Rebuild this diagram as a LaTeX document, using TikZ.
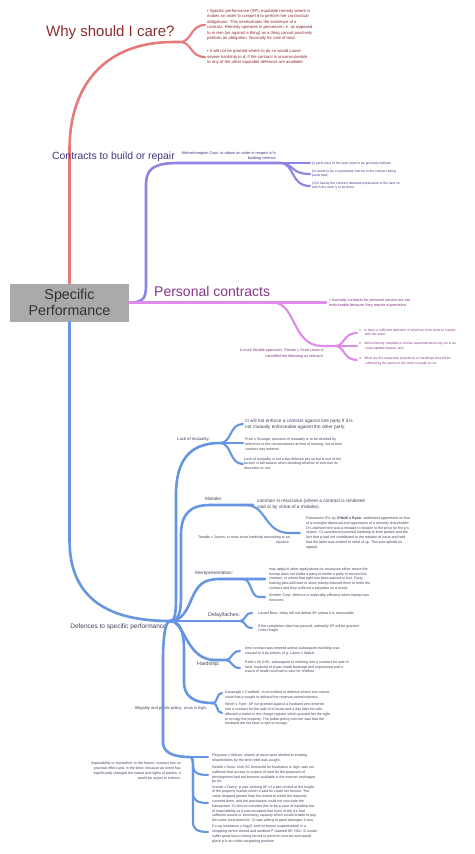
\documentclass[tikz,border=0pt]{standalone}
\usepackage{fontspec}
\setmainfont{Liberation Sans}
\definecolor{redline}{RGB}{228,122,122}
\definecolor{redtext}{RGB}{140,45,45}
\definecolor{purline}{RGB}{142,132,228}
\definecolor{purtext}{RGB}{62,58,125}
\definecolor{magline}{RGB}{221,140,232}
\definecolor{magtext}{RGB}{135,55,135}
\definecolor{bluline}{RGB}{102,150,226}
\definecolor{blutext}{RGB}{66,68,92}
\definecolor{rootfill}{RGB}{170,170,170}
\definecolor{roottext}{RGB}{50,50,50}
\newcommand{\fsz}[2]{\fontsize{#1}{#2}\selectfont}
\begin{document}
\begin{tikzpicture}[x=1pt,y=-1pt,
  mainl/.style={line width=2.6pt, line cap=round},
  subl/.style={line width=2.1pt, line cap=round},
  tl/.style={inner sep=0pt, align=left, anchor=north west},
  tr/.style={inner sep=0pt, align=right, anchor=north east},
  bsmall/.style={tl, text=blutext, font={\fsz{3.6}{4.7}}},
  bbig/.style={tl, text=blutext, font={\fsz{4.7}{6}}},
  blab/.style={inner sep=0pt, anchor=west, text=blutext}]
\useasboundingbox (0,0) rectangle (474,854);
\fill[white] (0,0) rectangle (474,854);

% root
\node[fill=rootfill, minimum width=119pt, minimum height=38pt, inner sep=0pt, align=center,
  text=roottext, font={\fsz{14.3}{16.7}}] (root) at (69.5,302.5) {Specific\\Performance};

% ---------------- red branch
\node[anchor=base west, inner sep=0pt, text=redtext, font={\fsz{15}{18}}] (why) at (46,36.5) {Why should I care?};
\coordinate (rhub) at (180,42);
\coordinate (r1) at (205,25);
\coordinate (r2) at (205,57);
\draw[mainl,redline] (root.north) -- (69.5,150) .. controls (69.5,80) and (110,42) .. (173,42) -- (rhub);
\draw[subl,redline] (rhub) .. controls (192,42) and (190,25) .. (r1);
\draw[subl,redline] (rhub) .. controls (192,42) and (190,57) .. (r2);
\node[tl, text=redtext, font={\fsz{4.2}{5.5}}] (rt1) at (207,9.1) {• Specific performance (SP): equitable remedy where ct\\makes an order to compel d to perform her contractual\\obligations. This necessitates the existence of a\\contract. Remedy operates in personam i.e. as opposed\\to in rem (as against a thing) as a thing cannot positively\\perform an obligation. Normally for sale of land.};
\node[tl, text=redtext, font={\fsz{4.2}{5.4}}] (rt2) at (207,49.4) {• It will not be granted where to do so would cause\\severe hardship to d, if the contract is unconscionable\\or any of the other equitable defences are available.};

% ---------------- purple branch
\node[anchor=base west, inner sep=0pt, text=purtext, font={\fsz{10.4}{12}}] (cbr) at (52,159) {Contracts to build or repair};
\coordinate (phub) at (280,163);
\draw[mainl,purline] (root.east) .. controls (146,302.5) and (146,296) .. (146,282) -- (146,185) .. controls (146,170) and (152,163) .. (178,163) -- (phub);
\draw[subl,purline] (phub) -- (310,163);
\draw[subl,purline] (phub) .. controls (294,163) and (290,174) .. (310,174);
\draw[subl,purline] (phub) .. controls (295,163) and (290,186) .. (310,186);
\node[tr, text=purtext, font={\fsz{3.85}{4.9}}] (wolv) at (276,151.8) {Wolverhampton Corp: to obtain an order in respect of a\\building contract};
\node[inner sep=0pt, anchor=west, text=purtext, font={\fsz{3.3}{4.6}}] (p1) at (312,163.7) {(i) particulars of the work need to be precisely defined;};
\node[tl, text=purtext, font={\fsz{3.3}{4.6}}] (p2) at (312,169.8) {(ii) needs to be a substantial interest in the contract being\\performed;};
\node[tl, text=purtext, font={\fsz{3.3}{4.6}}] (p3) at (312,181.8) {(iii) it has by the contract obtained possession of the land on\\which the work is to be done.};

% ---------------- magenta branch
\node[anchor=base west, inner sep=0pt, text=magtext, font={\fsz{14}{16}}] (pc) at (154,296.5) {Personal contracts};
\coordinate (mfork) at (273,302.5);
\coordinate (mhub) at (335,346);
\draw[mainl,magline] (root.east) -- (326,302.5);
\draw[subl,magline] (mfork) .. controls (296,302.5) and (292,346) .. (322,346) -- (mhub);
\draw[subl,magline] (mhub) .. controls (345,346) and (343,333) .. (357,333);
\draw[subl,magline] (mhub) -- (357,346);
\draw[subl,magline] (mhub) .. controls (345,346) and (343,360) .. (357,360);
\node[tl, text=magtext, font={\fsz{3.8}{5}}] (m0) at (329,298.3) {• Normally contracts for personal service are not\\enforceable because they require supervision.};
\node[tl, text=magtext, font={\fsz{3.3}{4.6}}] (m1) at (359,328.6) {1.\hspace{2.5pt}Is there a sufficient definition of what has to be done to comply\\\hspace{6pt}with the order;};
\node[tl, text=magtext, font={\fsz{3.3}{4.6}}] (m2) at (359,342.2) {2.\hspace{2.5pt}Will enforcing compliance involve superintendence by cts to an\\\hspace{6pt}unacceptable degree; and};
\node[tl, text=magtext, font={\fsz{3.3}{4.6}}] (m3) at (359,357.2) {3.\hspace{2.5pt}What are the respective prejudices or hardships that will be\\\hspace{6pt}suffered by the parties if the order is made or not.};
\node[tr, text=magtext, font={\fsz{3.8}{5.3}}] (mflex) at (324,348.9) {A more flexible approach: Posner v Scott Lewis ct\\identified the following as relevant:};

% ---------------- blue branch
\coordinate (H) at (170,621);
\draw[mainl,bluline] (root.south) -- (69.5,540) .. controls (69.5,600) and (110,621) .. (H);
\node[inner sep=0pt, anchor=east, text=blutext, font={\fsz{6.5}{8}}] (def) at (167,626.7) {Defences to specific performance};

% lack of mutuality
\node[blab, font={\fsz{4.2}{5}}] (lom) at (177,439) {Lack of mutuality:};
\coordinate (lhub) at (220,443);
\draw[mainl,bluline] (H) .. controls (176,621) and (176,610) .. (176,590) -- (176,495) .. controls (176,460) and (190,443) .. (lhub);
\draw[subl,bluline] (lhub) .. controls (232,443) and (229,424) .. (243,424);
\draw[subl,bluline] (lhub) -- (243,443);
\draw[subl,bluline] (lhub) .. controls (232,443) and (229,464) .. (243,464);
\node[bbig] (lm1) at (245,418.8) {ct will not enforce a contract against one party if it is\\not mutually enforceable against the other party.};
\node[bsmall, font={\fsz{3.6}{5}}] (lm2) at (245,437.4) {Price v Strange: question of mutuality is to be decided by\\reference to the circumstances at time of hearing, not at time\\contract was entered.};
\node[bsmall] (lm3) at (244,457.4) {Lack of mutuality is not a bar defence per se but is one of the\\factors ct will assess when deciding whether to exercise its\\discretion or not.};

% mistake
\node[blab, font={\fsz{4.6}{5.5}}] (mis) at (205,499) {Mistake:};
\coordinate (mkfork) at (245,505);
\draw[mainl,bluline] (H) .. controls (179,621) and (181,612) .. (181,595) -- (181,535) .. controls (181,514) and (190,505) .. (210,505) -- (253,505);
\draw[subl,bluline] (mkfork) .. controls (268,505) and (263,533) .. (290,533) -- (300,533);
\node[bbig] (mk1) at (257,498.8) {common in rescission (where a contract is rendered\\void or by virtue of a mistake).};
\node[bsmall, font={\fsz{3.6}{4.75}}] (mk2) at (306,516.7) {Followed in IRL by \textbf{O'Neill v Ryan}: settlement agreement on foot\\of a wrongful dismissal and oppression of a minority shareholder.\\D's claimed here was a mistake in relation to the price for the p's\\shares. Ct considered potential hardship to both parties and the\\fact that p had not contributed to the mistake at issue and held\\that the latter was entitled to relief of sp. This was upheld on\\appeal.};
\node[tr, text=blutext, font={\fsz{3.6}{4.8}}] (mk3) at (290,535.4) {Tamplin v James: ct must show hardship amounting to an\\injustice.};

% misrepresentation
\node[blab, font={\fsz{4.6}{5.5}}] (mr) at (195,573) {Misrepresentation:};
\coordinate (mrfork) at (243,579);
\draw[mainl,bluline] (H) .. controls (182,621) and (187,610) .. (192,598) .. controls (198,585) and (203,579) .. (220,579) -- (265,579);
\draw[subl,bluline] (mrfork) .. controls (252,579) and (250,597) .. (259,597) -- (265,597);
\node[bsmall] (mr1) at (269,567.7) {may apply in other applications for rescission either where the\\misrep does not entitle a party to entitle a party to rescind the\\contract, or where that right has been waived or lost. Party\\making plea will have to show misrep induced them to enter the\\contract and they suffered a prejudice as a result.};
\node[bsmall] (mr2) at (269,594.1) {Smelter Corp: defence is especially effective when misrep was\\innocent.};

% delay
\node[blab, font={\fsz{5.3}{6}}] (dl) at (208,615) {Delay/laches:};
\coordinate (dhub) at (240,621);
\draw[mainl,bluline] (H) -- (dhub);
\draw[subl,bluline] (dhub) .. controls (246,621) and (244,613) .. (252,613);
\draw[subl,bluline] (dhub) .. controls (246,621) and (244,628) .. (252,628);
\node[blab, font={\fsz{3.6}{4.7}}] (dl1) at (258,614) {Laceel Bros: delay will not defeat SP unless it is reasonable.};
\node[bsmall] (dl2) at (258,624.4) {If the completion date has passed, ordinarily SP will be granted:\\Union Eagle.};

% hardship
\node[blab, font={\fsz{5.3}{6}}] (hs) at (197,664.5) {Hardship:};
\coordinate (hhub) at (226,660);
\draw[mainl,bluline] (H) .. controls (185,621) and (186,660) .. (215,660) -- (hhub);
\draw[subl,bluline] (hhub) .. controls (232,660) and (231,651) .. (240,651);
\draw[subl,bluline] (hhub) .. controls (232,660) and (231,668) .. (240,668);
\node[bsmall] (hs1) at (245,646.7) {time contract was entered unless subsequent hardship was\\caused to d by actions of p: Lanne v Walsh.};
\node[bsmall] (hs2) at (245,660.7) {Patel v Ali (UK), subsequent to entering into a contract for sale of\\land, husband of d was made bankrupt and imprisoned and a\\was in ill health and had to care for children.};

% illegality
\node[blab, font={\fsz{4.1}{5}}] (il) at (135,708) {Illegality and public policy: onus is high:};
\coordinate (ihub) at (213,703);
\draw[mainl,bluline] (H) .. controls (180,621) and (184,632) .. (184,650) -- (184,682) .. controls (184,696) and (193,703) .. (ihub);
\draw[subl,bluline] (ihub) .. controls (218,703) and (216,693) .. (222,693);
\draw[subl,bluline] (ihub) .. controls (218,703) and (216,713) .. (222,713);
\node[bsmall] (il1) at (225,690.7) {Kavanagh v Caulfield: d not entitled to defence where she cannot\\show that p sought to defraud the revenue commissioners.};
\node[bsmall] (il2) at (225,703.1) {Wroth v Tyler: SP not granted against a husband who entered\\into a contract for the sale of a house and a day later his wife\\affected a notice in the charge register which granted her the right\\to occupy the property. The public policy concern was that the\\husband did not have a right to occupy.};

% impossibility
\coordinate (ohub) at (190,757);
\draw[mainl,bluline] (H) .. controls (165,621) and (163,640) .. (163,660) -- (163,742) .. controls (163,752) and (172,757) .. (ohub);
\draw[subl,bluline] (ohub) -- (208,757);
\draw[subl,bluline] (ohub) .. controls (193,757) and (193,762) .. (193,766) .. controls (193,772) and (197,775) .. (208,775);
\draw[subl,bluline] (ohub) .. controls (193,757) and (193,762) .. (193,768) -- (193,793) .. controls (193,800) and (197,803) .. (208,803);
\draw[subl,bluline] (ohub) .. controls (193,757) and (193,762) .. (193,768) -- (193,822) .. controls (193,829) and (197,832) .. (208,832);
\node[tr, text=blutext, font={\fsz{3.6}{4.9}}] (o0) at (181,762.1) {Impossibility or frustration: in the former, contract has no\\practical effect and, in the latter, because an event has\\significantly changed the nature and rights of parties, it\\would be unjust to enforce.};
\node[bsmall] (o1) at (212,754.1) {Ferguson v Wilson: shares at issue were allotted to existing\\shareholders by the time relief was sought.};
\node[bsmall, font={\fsz{3.6}{4.9}}] (o2) at (212,765.4) {Neville v Sons: Irish SC threshold for frustration is high; was not\\sufficient that access to a piece of land for the purposes of\\development had not become available in the manner envisaged\\by d's.};
\node[bsmall, font={\fsz{3.6}{4.76}}] (o3) at (212,785.4) {Anmair v Darcy: p was seeking SP of a plot of land at the height\\of the property market which d said he could not honour. The\\value dropped greater than the extent to which the deposits\\covered them, and the purchasers could not conclude the\\transaction. Ct did not consider this to be a case of hardship but\\of impossibility as it was accepted that none of the d's had\\sufficient assets or borrowing capacity which would enable to pay\\the sums contracted for. Ct was willing to grant damages in lieu.};
\node[bsmall] (o4) at (212,825.1) {Co-op Insurance v Argyll: anchor tenant (supermarket) in a\\shopping centre closed and landlord P claimed SP. HOL: D would\\suffer great loss in being forced to perform contract and would\\place p in an unfair bargaining position.};
\end{tikzpicture}
\end{document}
